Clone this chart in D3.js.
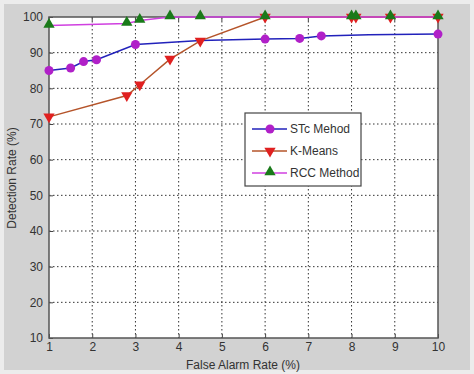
<!DOCTYPE html>
<html>
<head>
<meta charset="utf-8">
<script src="https://cdn.jsdelivr.net/npm/d3@7"></script>
<style>
  body { margin: 0; background: #ececec; }
  svg { display: block; font-family: "Liberation Sans", Arial, sans-serif; }
</style>
</head>
<body>
<svg id="chart" width="474" height="374"></svg>
<script>
// data
const stcX = [1, 1.5, 1.8, 2.1, 3, 4.5, 6, 6.8, 7.3, 8.4, 10];
const stcY = [85, 85.7, 87.5, 88, 92.3, 93.4, 93.8, 94, 94.7, 95, 95.2];
const kmX = [1, 2.8, 3.1, 3.8, 4.5, 6, 8, 8.1, 8.9, 10];
const kmY = [72, 78, 81, 88.2, 93.3, 100, 100, 100, 100, 100];
const rccX = [1, 2.8, 3.1, 3.8, 4.5, 6, 8, 8.1, 8.9, 10];
const rccY = [97.6, 98.2, 99, 100, 100, 100, 100, 100, 100, 100];
const stcMarks = [true, true, true, true, true, false, true, true, true, false, true];
const xTicks = [1, 2, 3, 4, 5, 6, 7, 8, 9, 10];
const yTicks = [10, 20, 30, 40, 50, 60, 70, 80, 90, 100];
const legendNames = ["STc Mehod", "K-Means", "RCC Method"];

const svg = d3.select("#chart");

// figure background
svg.append("rect")
    .attr("x", 4).attr("y", 4)
    .attr("width", 466).attr("height", 366)
    .attr("fill", "#d2d2d2");

const x = d3.scaleLinear().domain([1, 10]).range([49, 438]);
const y = d3.scaleLinear().domain([10, 100]).range([338, 17]);

svg.append("rect")
    .attr("x", x(1)).attr("y", y(100))
    .attr("width", x(10) - x(1)).attr("height", y(10) - y(100))
    .attr("fill", "#fff");

// grid
svg.append("g")
    .selectAll("line")
    .data(xTicks.slice(1, -1))
    .join("line")
    .attr("x1", (d) => x(d)).attr("x2", (d) => x(d))
    .attr("y1", y(100)).attr("y2", y(10))
    .attr("stroke", "#333")
    .attr("stroke-width", 1)
    .attr("stroke-dasharray", "1.5,2.5");

svg.append("g")
    .selectAll("line")
    .data(yTicks.slice(1, -1))
    .join("line")
    .attr("x1", x(1)).attr("x2", x(10))
    .attr("y1", (d) => y(d)).attr("y2", (d) => y(d))
    .attr("stroke", "#333")
    .attr("stroke-width", 1)
    .attr("stroke-dasharray", "1.5,2.5");

// axes
const xAxis = svg.append("g")
    .attr("transform", `translate(0,${y(10)})`)
    .call(d3.axisBottom(x).tickValues(xTicks).tickSize(-4).tickPadding(4));
const yAxis = svg.append("g")
    .attr("transform", `translate(${x(1)},0)`)
    .call(d3.axisLeft(y).tickValues(yTicks).tickSize(-4).tickPadding(6));

[xAxis, yAxis].forEach((g) => {
    g.select(".domain").remove();
    g.selectAll("line").attr("stroke", "#444");
    g.selectAll("text")
        .attr("fill", "#333")
        .style("font-size", "12px");
});

// top ticks
svg.append("g")
    .selectAll("line")
    .data(xTicks)
    .join("line")
    .attr("x1", (d) => x(d)).attr("x2", (d) => x(d))
    .attr("y1", y(100)).attr("y2", y(100) + 4)
    .attr("stroke", "#444");

svg.append("rect")
    .attr("x", x(1)).attr("y", y(100))
    .attr("width", x(10) - x(1)).attr("height", y(10) - y(100))
    .attr("fill", "none")
    .attr("stroke", "#555")
    .attr("stroke-width", 1.5);

const line = d3.line()
    .x((d) => x(d[0]))
    .y((d) => y(d[1]));

const stc = d3.zip(stcX, stcY);
const km = d3.zip(kmX, kmY);
const rcc = d3.zip(rccX, rccY);

const tri = d3.symbol().type(d3.symbolTriangle).size(55);

function drawSeries(pts, lineColor, markFn) {
    svg.append("path")
        .datum(pts)
        .attr("d", line)
        .attr("fill", "none")
        .attr("stroke", lineColor)
        .attr("stroke-width", 1.5);
    markFn(svg.append("g"), pts);
}

drawSeries(stc, "#2222bb", (g, pts) => {
    g.selectAll("circle")
        .data(pts.filter((d, i) => stcMarks[i]))
        .join("circle")
        .attr("cx", (d) => x(d[0]))
        .attr("cy", (d) => y(d[1]))
        .attr("r", 4.5)
        .attr("fill", "#b020c8");
});

drawSeries(km, "#b5542a", (g, pts) => {
    g.selectAll("path")
        .data(pts)
        .join("path")
        .attr("d", tri)
        .attr("transform", (d) => `translate(${x(d[0])},${y(d[1])}) rotate(180)`)
        .attr("fill", "#e02020");
});

drawSeries(rcc, "#d040e0", (g, pts) => {
    g.selectAll("path")
        .data(pts)
        .join("path")
        .attr("d", tri)
        .attr("transform", (d) => `translate(${x(d[0])},${y(d[1]) - 1})`)
        .attr("fill", "#1a7a1a");
});

// legend
const leg = svg.append("g").attr("transform", "translate(245,113)");
leg.append("rect")
    .attr("width", 116).attr("height", 73)
    .attr("fill", "#fff")
    .attr("stroke", "#444")
    .attr("stroke-width", 1.2);

const legLine = ["#2222bb", "#b5542a", "#d040e0"];
legendNames.forEach((name, i) => {
    const yy = 16 + i * 22;
    leg.append("line")
        .attr("x1", 7).attr("x2", 42)
        .attr("y1", yy).attr("y2", yy)
        .attr("stroke", legLine[i])
        .attr("stroke-width", 1.5);
    if (i === 0) {
        leg.append("circle").attr("cx", 25).attr("cy", yy).attr("r", 4.5).attr("fill", "#b020c8");
    } else if (i === 1) {
        leg.append("path").attr("d", tri)
            .attr("transform", `translate(25,${yy}) rotate(180)`).attr("fill", "#e02020");
    } else {
        leg.append("path").attr("d", tri)
            .attr("transform", `translate(25,${yy - 1})`).attr("fill", "#1a7a1a");
    }
    leg.append("text")
        .attr("x", 45).attr("y", yy + 4)
        .attr("fill", "#333")
        .style("font-size", "12px")
        .text(name);
});

// axis titles
svg.append("text")
    .attr("x", 243).attr("y", 369)
    .attr("text-anchor", "middle")
    .attr("fill", "#333")
    .style("font-size", "12px")
    .text("False Alarm Rate (%)");

svg.append("text")
    .attr("transform", "translate(16,178) rotate(-90)")
    .attr("text-anchor", "middle")
    .attr("fill", "#333")
    .style("font-size", "12px")
    .text("Detection Rate (%)");
</script>
</body>
</html>
